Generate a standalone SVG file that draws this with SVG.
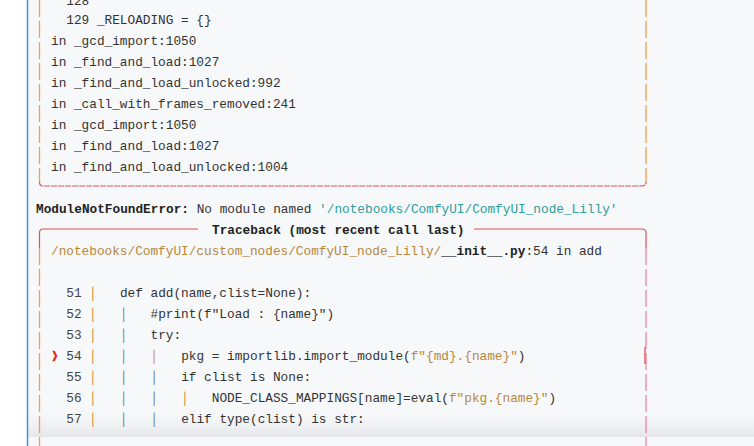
<svg xmlns="http://www.w3.org/2000/svg" width="754" height="446" viewBox="0 0 754 446">
<defs>
<linearGradient id="fade" x1="0" y1="0" x2="0" y2="1"><stop offset="0" stop-color="#f6f8fa" stop-opacity="0"/><stop offset="1" stop-color="#e4e6e9"/></linearGradient>
<style>
text{font-family:"Liberation Mono","DejaVu Sans Mono",monospace;font-size:12.75px;fill:#333;white-space:pre}
.b{font-weight:bold;fill:#222}
.n{fill:#444}
.o{fill:#c8862e}
.g{fill:#6b7d92}
.s{fill:#b8863b}
.t{fill:#2a9d9d}
.r{fill:#d9342b}
.ob{stroke:#f0a050;stroke-width:1.3;fill:none;stroke-dasharray:17 4}
.rb{stroke:#e05050;stroke-width:1.2;fill:none}
.pb{stroke:#f080b0;stroke-width:1.3;fill:none;stroke-dasharray:17 4}
</style>
</defs>
<rect width="754" height="446" fill="#ffffff"/>
<rect x="27" y="0" width="727" height="446" fill="#f6f8fa"/>
<rect x="27" y="405" width="727" height="32" fill="url(#fade)"/>
<line x1="27.5" y1="0" x2="27.5" y2="446" stroke="#4a90d9" stroke-width="1.5"/>
<g id="frames-box">
<path class="ob" d="M39.5 0 V182"/>
<path class="rb" d="M39.5 182 Q39.5 186 43 186 H642 Q646 186 646 182" stroke-dasharray="6 1"/>
<path class="ob" d="M646 0 V182"/>
<text x="51" y="5">  128</text>
<text x="51" y="24">  129 _RELOADING = {}</text>
<text x="51" y="45">in _gcd_import:1050</text>
<text x="51" y="66">in _find_and_load:1027</text>
<text x="51" y="87">in _find_and_load_unlocked:992</text>
<text x="51" y="108">in _call_with_frames_removed:241</text>
<text x="51" y="129">in _gcd_import:1050</text>
<text x="51" y="150">in _find_and_load:1027</text>
<text x="51" y="171">in _find_and_load_unlocked:1004</text>
</g>
<g id="error">
<text x="36" y="213"><tspan class="b">ModuleNotFoundError:</tspan> No module named <tspan class="t">'/notebooks/ComfyUI/ComfyUI_node_Lilly'</tspan></text>
</g>
<g id="traceback-box">
<path class="rb" d="M39.5 248 V233 Q39.5 229 43 229 H198"/>
<path class="rb" d="M474 229 H642 Q646 229 646 233 V248"/>
<text x="212" y="234" class="b">Traceback (most recent call last)</text>
<path class="ob" d="M39.5 248 V446"/>
<path class="pb" d="M646 248 V446"/>
<line x1="645" y1="347" x2="645" y2="364" stroke="#e05050" stroke-width="1.3"/>
<text x="51" y="255"><tspan class="s">/notebooks/ComfyUI/custom_nodes/ComfyUI_node_Lilly/</tspan><tspan class="b">__init__.py</tspan>:54 in add</text>
<text x="51" y="297"><tspan class="n">  51 </tspan><tspan class="o">│</tspan>   def add(name,clist=None):</text>
<text x="51" y="318"><tspan class="n">  52 </tspan><tspan class="o">│</tspan>   <tspan class="g">│</tspan>   #print(f"Load : {name}")</text>
<text x="51" y="339"><tspan class="n">  53 </tspan><tspan class="o">│</tspan>   <tspan class="g">│</tspan>   try:</text>
<text x="51" y="360"><tspan class="r">❱</tspan><tspan class="n"> 54 </tspan><tspan class="o">│</tspan>   <tspan class="g">│</tspan>   <tspan class="o">│</tspan>   pkg = importlib.import_module(<tspan class="s">f"{md}.{name}"</tspan>)</text>
<text x="51" y="381"><tspan class="n">  55 </tspan><tspan class="o">│</tspan>   <tspan class="g">│</tspan>   <tspan class="g">│</tspan>   if clist is None:</text>
<text x="51" y="402"><tspan class="n">  56 </tspan><tspan class="o">│</tspan>   <tspan class="g">│</tspan>   <tspan class="g">│</tspan>   <tspan class="o">│</tspan>   NODE_CLASS_MAPPINGS[name]=eval(<tspan class="s">f"pkg.{name}"</tspan>)</text>
<text x="51" y="423"><tspan class="n">  57 </tspan><tspan class="o">│</tspan>   <tspan class="g">│</tspan>   <tspan class="g">│</tspan>   elif type(clist) is str:</text>
</g>
</svg>
